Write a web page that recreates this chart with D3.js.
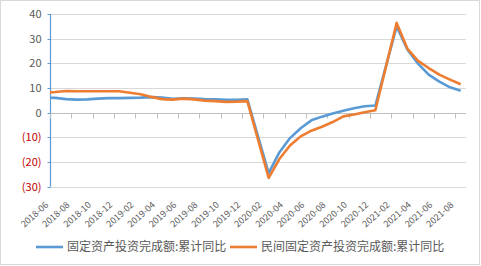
<!DOCTYPE html>
<html>
<head>
<meta charset="utf-8">
<script src="https://cdn.jsdelivr.net/npm/d3@7"></script>
<style>
  body { margin: 0; background: #fff; }
  text { font-family: "Noto Sans CJK SC", "Noto Sans", sans-serif; }
</style>
</head>
<body>
<svg width="481" height="266"></svg>
<script>
// months of the cumulative series (no January figure is published)
const months = [
  "2018-05", "2018-06", "2018-07", "2018-08", "2018-09", "2018-10", "2018-11", "2018-12",
  "2019-02", "2019-03", "2019-04", "2019-05", "2019-06", "2019-07", "2019-08", "2019-09", "2019-10", "2019-11", "2019-12",
  "2020-02", "2020-03", "2020-04", "2020-05", "2020-06", "2020-07", "2020-08", "2020-09", "2020-10", "2020-11", "2020-12",
  "2021-02", "2021-03", "2021-04", "2021-05", "2021-06", "2021-07", "2021-08"
];
const totalYoY = [
  6.1, 6.0, 5.5, 5.3, 5.4, 5.7, 5.9, 5.9,
  6.1, 6.3, 6.1, 5.6, 5.8, 5.7, 5.5, 5.4, 5.2, 5.2, 5.4,
  -24.5, -16.1, -10.3, -6.3, -3.1, -1.6, -0.3, 0.8, 1.8, 2.6, 2.9,
  35.0, 25.6, 19.9, 15.4, 12.6, 10.3, 8.9
];
const privateYoY = [
  8.1, 8.4, 8.8, 8.7, 8.7, 8.7, 8.7, 8.7,
  7.5, 6.4, 5.5, 5.3, 5.7, 5.4, 4.9, 4.7, 4.4, 4.5, 4.7,
  -26.4, -18.8, -13.3, -9.6, -7.3, -5.7, -3.8, -1.5, -0.7, 0.2, 1.0,
  36.4, 26.0, 21.0, 18.1, 15.4, 13.4, 11.5
];
const tickLabels = [
  "2018-06", "2018-08", "2018-10", "2018-12", "2019-02", "2019-04", "2019-06", "2019-08", "2019-10", "2019-12",
  "2020-02", "2020-04", "2020-06", "2020-08", "2020-10", "2020-12", "2021-02", "2021-04", "2021-06", "2021-08"
];
const yTicks = [40, 30, 20, 10, 0, -10, -20, -30];
const seriesNames = ["固定资产投资完成额:累计同比", "民间固定资产投资完成额:累计同比"];
const colors = ["#5b9bd5", "#ed7d31"];

// month offset from 2018-06
const monthIndex = (s) => {
  const [yy, mm] = s.split("-").map(Number);
  return (yy - 2018) * 12 + (mm - 6);
};

const svg = d3.select("svg");

svg.append("rect")
  .attr("x", 0.5).attr("y", 0.5)
  .attr("width", 479).attr("height", 264)
  .attr("fill", "#fff").attr("stroke", "#d9d9d9");

const plotLeft = 50, plotRight = 466, plotTop = 14, plotBottom = 186.7;

const x = d3.scaleLinear().domain([0, 39]).range([plotLeft, plotRight]);
const y = d3.scaleLinear().domain([-30, 40]).range([plotBottom, plotTop]);

// gridlines
svg.append("g")
  .selectAll("line")
  .data(yTicks)
  .join("line")
  .attr("x1", plotLeft).attr("x2", plotRight)
  .attr("y1", (d) => Math.round(y(d)) + 0.5)
  .attr("y2", (d) => Math.round(y(d)) + 0.5)
  .attr("stroke", (d) => (d === 0 ? "#bfbfbf" : "#d9d9d9"))
  .attr("stroke-width", 1);

// y axis
const yAxis = svg.append("g").attr("transform", `translate(${plotLeft + 0.5},0)`);
yAxis.append("line")
  .attr("y1", y(40)).attr("y2", y(-30))
  .attr("stroke", "#5b9bd5").attr("stroke-width", 1.2);
yAxis.selectAll(".ytick")
  .data(yTicks)
  .join("line")
  .attr("class", "ytick")
  .attr("x1", -3).attr("x2", 0)
  .attr("y1", (d) => Math.round(y(d)) + 0.5)
  .attr("y2", (d) => Math.round(y(d)) + 0.5)
  .attr("stroke", "#5b9bd5");
yAxis.selectAll("text")
  .data(yTicks)
  .join("text")
  .attr("x", -9)
  .attr("y", (d) => y(d))
  .attr("dy", "0.36em")
  .attr("text-anchor", "end")
  .attr("font-size", 11)
  .attr("fill", (d) => (d < 0 ? "#c00000" : "#595959"))
  .text((d) => (d < 0 ? `(${-d})` : d));

// x ticks on the zero line
const y0 = Math.round(y(0)) + 0.5;
svg.append("g")
  .selectAll("line")
  .data(tickLabels)
  .join("line")
  .attr("x1", (d) => Math.round(x(monthIndex(d))) + 0.5)
  .attr("x2", (d) => Math.round(x(monthIndex(d))) + 0.5)
  .attr("y1", y0).attr("y2", y0 + 5)
  .attr("stroke", "#bfbfbf");

// x labels, rotated
svg.append("g")
  .selectAll("text")
  .data(tickLabels)
  .join("text")
  .attr("transform", (d) => `translate(${x(monthIndex(d)) - 1},${plotBottom + 19}) rotate(-42)`)
  .attr("text-anchor", "end")
  .attr("font-size", 9)
  .attr("fill", "#595959")
  .text((d) => d);

// lines
svg.append("clipPath").attr("id", "plot-clip")
  .append("rect")
  .attr("x", plotLeft).attr("y", 0)
  .attr("width", plotRight - plotLeft).attr("height", 266);

const line = d3.line()
  .x((d) => x(monthIndex(d.m) + 0.5))
  .y((d) => y(d.v));

[totalYoY, privateYoY].forEach((vals, i) => {
  const pts = months.map((m, j) => ({ m, v: vals[j] }));
  svg.append("path")
    .datum(pts)
    .attr("clip-path", "url(#plot-clip)")
    .attr("d", line)
    .attr("fill", "none")
    .attr("stroke", colors[i])
    .attr("stroke-width", 2.6)
    .attr("stroke-linejoin", "round");
});

// legend
const legendX = [36, 230];
const legend = svg.append("g")
  .selectAll("g")
  .data(seriesNames)
  .join("g")
  .attr("transform", (d, i) => `translate(${legendX[i]},247)`);
legend.append("line")
  .attr("x1", 0).attr("x2", 27)
  .attr("stroke", (d, i) => colors[i])
  .attr("stroke-width", 2.6);
legend.append("text")
  .attr("x", 31)
  .attr("dy", "0.36em")
  .attr("font-size", 12)
  .attr("fill", "#595959")
  .text((d) => d);
</script>
</body>
</html>
